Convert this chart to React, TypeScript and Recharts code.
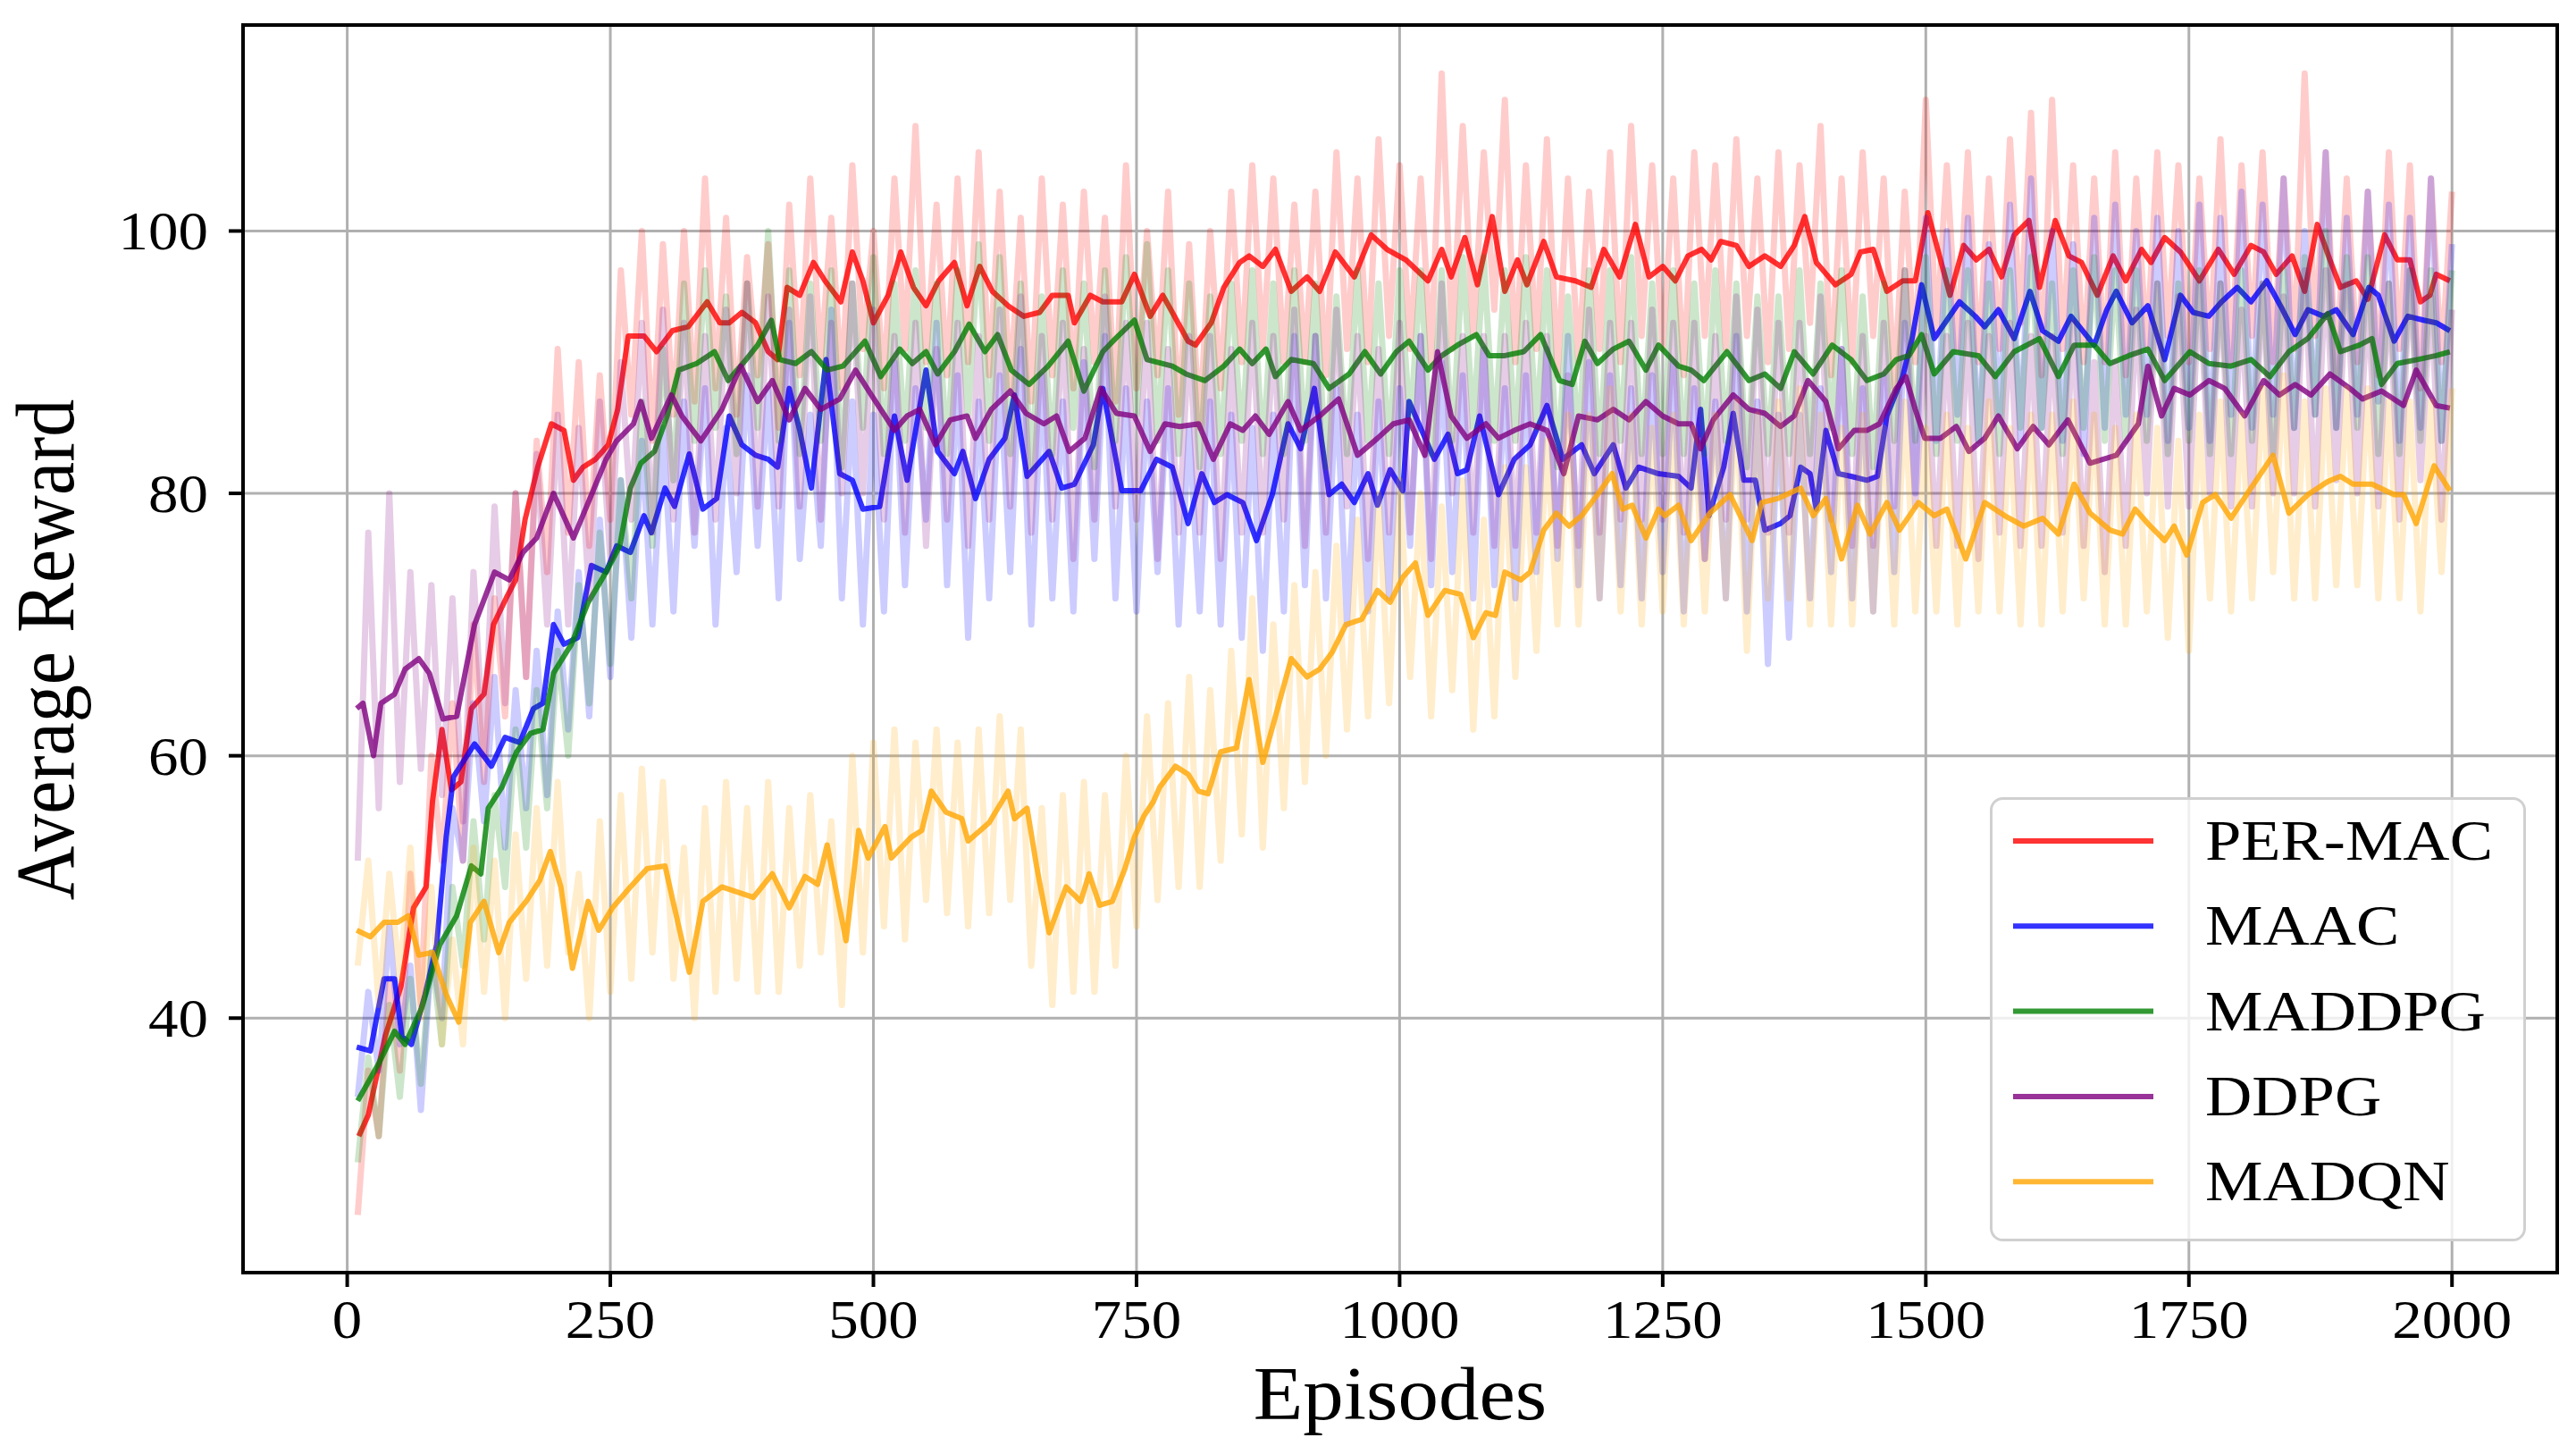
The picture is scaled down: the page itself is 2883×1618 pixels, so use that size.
import React from "react";
import {
  LineChart,
  Line,
  XAxis,
  YAxis,
  CartesianGrid,
  ReferenceArea,
  Legend,
  Label,
} from "recharts";

const FONT = "'Liberation Serif', 'Times New Roman', serif";

const xTicks = [0, 250, 500, 750, 1000, 1250, 1500, 1750, 2000];
const yTicks = [40, 60, 80, 100];

// smoothed curves, [episode, average reward]
const perMacSmooth = [
  [11, 31], [20, 32.6], [36, 38.6], [51, 42.4], [63, 48.4], [75, 50], [81, 56.5], [90, 62], [99, 57.4], [108, 58],
  [118, 63.6], [130, 64.7], [139, 70], [151, 72], [160, 73.4], [169, 78], [181, 82], [194, 85.3], [206, 84.8], [215, 81],
  [224, 82], [236, 82.6], [248, 83.7], [257, 86.4], [267, 92], [282, 92], [294, 90.8], [309, 92.4], [324, 92.7], [342, 94.6],
  [354, 93], [363, 93], [375, 93.8], [388, 93], [400, 90.8], [409, 90.2], [418, 95.7], [430, 95.1], [443, 97.6], [454, 96.2],
  [469, 94.6], [480, 98.4], [490, 96.2], [500, 93], [514, 95.1], [526, 98.4], [538, 95.7], [550, 94.3], [562, 96.2], [577, 97.6],
  [589, 94.3], [601, 97.3], [613, 95.4], [628, 94.3], [643, 93.5], [658, 93.8], [670, 95.1], [685, 95.1], [691, 93], [706, 95.1],
  [718, 94.6], [736, 94.6], [748, 96.7], [763, 93.5], [775, 95.1], [784, 93.8], [799, 91.6], [806, 91.3], [821, 93], [833, 95.7],
  [848, 97.6], [857, 98.1], [870, 97.3], [882, 98.6], [897, 95.4], [912, 96.5], [924, 95.4], [939, 98.4], [957, 96.5], [973, 99.7],
  [988, 98.6], [1006, 97.8], [1027, 96.2], [1040, 98.6], [1049, 96.5], [1062, 99.5], [1074, 95.9], [1088, 101.1], [1100, 95.4], [1112, 97.8],
  [1121, 95.9], [1137, 99.2], [1149, 96.5], [1167, 96.2], [1182, 95.7], [1194, 98.6], [1209, 96.5], [1224, 100.5], [1237, 96.5], [1250, 97.3],
  [1262, 96.2], [1274, 98.1], [1287, 98.6], [1296, 97.8], [1305, 99.2], [1320, 98.9], [1332, 97.3], [1347, 98.1], [1362, 97.3], [1375, 98.9],
  [1385, 101.1], [1396, 97.6], [1414, 95.9], [1429, 96.7], [1438, 98.4], [1450, 98.6], [1463, 95.4], [1478, 96.2], [1490, 96.2], [1502, 101.4],
  [1514, 97.8], [1523, 95.1], [1536, 98.9], [1548, 97.8], [1560, 98.6], [1572, 96.5], [1584, 99.7], [1598, 100.8], [1608, 95.7], [1623, 100.8],
  [1636, 98.1], [1648, 97.6], [1663, 95.1], [1678, 98.1], [1690, 96.2], [1705, 98.6], [1714, 97.6], [1727, 99.5], [1742, 98.4], [1760, 96.2],
  [1778, 98.6], [1793, 96.7], [1809, 98.9], [1821, 98.4], [1833, 96.7], [1848, 98.1], [1860, 95.4], [1872, 100.5], [1884, 97.8], [1894, 95.7],
  [1909, 96.2], [1920, 94.8], [1936, 99.7], [1948, 97.8], [1960, 97.8], [1970, 94.6], [1979, 95.1], [1985, 96.7], [1998, 96.2],
];

const maacSmooth = [
  [9, 37.8], [22, 37.5], [35, 43], [45, 43], [52, 38.6], [61, 38], [74, 41.8], [85, 45.6], [94, 53.8], [101, 58.4],
  [121, 60.9], [137, 59.2], [150, 61.4], [164, 61], [177, 63.6], [186, 64], [196, 70], [206, 68.5], [219, 69], [232, 74.5],
  [246, 74], [256, 76], [269, 75.5], [282, 78.3], [289, 77], [302, 80.4], [311, 79], [325, 83], [338, 78.8], [351, 79.6],
  [363, 85.9], [375, 83.7], [388, 82.9], [400, 82.6], [409, 82], [420, 88], [430, 84.8], [441, 80.4], [455, 90.2], [468, 81.5],
  [480, 81], [490, 78.8], [506, 79], [520, 85.9], [532, 81], [550, 89.4], [561, 83.2], [577, 81.5], [585, 83.2], [597, 79.6],
  [610, 82.6], [625, 84.2], [634, 87.5], [646, 81.3], [667, 83.2], [679, 80.4], [691, 80.7], [709, 83.7], [718, 88], [736, 80.2],
  [754, 80.2], [769, 82.6], [784, 82], [799, 77.7], [812, 81.5], [824, 79.3], [836, 79.9], [851, 79.3], [864, 76.4], [879, 79.9],
  [894, 85.3], [906, 83.4], [919, 88], [933, 79.9], [945, 80.7], [957, 79.3], [970, 81.5], [979, 79.1], [991, 81.8], [1003, 80.2],
  [1009, 87], [1021, 84.8], [1033, 82.6], [1046, 84.5], [1055, 81.5], [1064, 81.8], [1076, 85.9], [1094, 79.9], [1109, 82.6], [1124, 83.7],
  [1140, 86.7], [1155, 82.6], [1173, 83.7], [1185, 81.5], [1203, 83.7], [1215, 80.4], [1227, 82], [1246, 81.5], [1265, 81.3], [1277, 80.4],
  [1286, 86.4], [1294, 78.3], [1308, 82], [1317, 86.1], [1327, 81], [1338, 81], [1347, 77.2], [1362, 77.7], [1371, 78.3], [1381, 82],
  [1390, 81.5], [1396, 78.8], [1405, 84.8], [1417, 81.5], [1429, 81.3], [1444, 81], [1454, 81.3], [1463, 85.9], [1478, 88.9], [1487, 91.8],
  [1496, 95.9], [1508, 91.8], [1520, 93.2], [1532, 94.6], [1547, 93.5], [1556, 92.7], [1569, 94], [1584, 91.8], [1599, 95.4], [1611, 92.4],
  [1626, 91.6], [1638, 93.5], [1660, 91.3], [1672, 94], [1681, 95.4], [1696, 93], [1711, 94.3], [1727, 90.2], [1742, 95.1], [1754, 93.8],
  [1769, 93.5], [1781, 94.6], [1796, 95.7], [1809, 94.6], [1824, 96.2], [1839, 94], [1851, 92.1], [1863, 94], [1878, 93.5], [1890, 94],
  [1906, 92.1], [1921, 95.7], [1930, 95.1], [1945, 91.6], [1958, 93.5], [1973, 93.2], [1985, 93], [1998, 92.4],
];

const maddpgSmooth = [
  [10, 33.7], [29, 36.4], [45, 39], [55, 38], [71, 40.8], [88, 45.6], [104, 47.8], [118, 51.6], [127, 51], [134, 56],
  [147, 57.6], [161, 60.3], [174, 61.7], [186, 62], [196, 66.3], [213, 68.5], [229, 71.7], [246, 74], [259, 76], [269, 80.4],
  [279, 82.3], [292, 83.2], [304, 85.9], [315, 89.4], [332, 89.9], [349, 90.8], [362, 88.6], [379, 90.2], [390, 91.3], [403, 93.2],
  [411, 90.2], [426, 89.9], [441, 90.8], [456, 89.4], [471, 89.7], [492, 91.6], [507, 88.9], [525, 91], [537, 89.9], [550, 90.8],
  [561, 89.1], [577, 90.8], [591, 92.9], [606, 90.8], [618, 92.1], [631, 89.4], [648, 88.3], [666, 89.7], [685, 91.6], [700, 87.8],
  [718, 90.8], [730, 91.8], [748, 93.2], [760, 90.2], [784, 89.7], [797, 89.1], [815, 88.6], [833, 89.7], [848, 91], [860, 89.9],
  [873, 91], [882, 88.9], [897, 90.2], [918, 89.9], [933, 88], [952, 89.1], [967, 90.8], [982, 89.1], [997, 90.8], [1009, 91.6],
  [1027, 89.4], [1040, 90.5], [1055, 91.3], [1073, 92.1], [1085, 90.5], [1100, 90.5], [1118, 90.8], [1134, 92.1], [1152, 88.6], [1164, 88.3],
  [1176, 91.6], [1188, 89.9], [1203, 91], [1218, 91.6], [1234, 89.4], [1246, 91.3], [1265, 89.7], [1277, 89.4], [1289, 88.6], [1311, 90.8],
  [1332, 88.6], [1347, 89.1], [1362, 88], [1375, 90.8], [1393, 89.1], [1411, 91.3], [1429, 90.2], [1444, 88.6], [1460, 89.1], [1472, 90.2],
  [1484, 90.5], [1496, 92.1], [1508, 89.1], [1526, 90.8], [1550, 90.5], [1566, 88.9], [1584, 90.8], [1608, 91.8], [1626, 88.9], [1641, 91.3],
  [1660, 91.3], [1675, 89.9], [1693, 90.5], [1711, 91], [1727, 88.6], [1751, 90.8], [1769, 89.9], [1790, 89.7], [1809, 90.2], [1827, 88.9],
  [1845, 90.8], [1863, 91.8], [1882, 93.7], [1894, 90.8], [1912, 91.3], [1924, 91.8], [1933, 88.3], [1948, 89.9], [1967, 90.2], [1985, 90.5],
  [1998, 90.8],
];

const ddpgSmooth = [
  [9, 63.6], [15, 64], [25, 60], [32, 64], [45, 64.7], [55, 66.6], [68, 67.4], [78, 66.3], [91, 62.8], [104, 63],
  [121, 70], [140, 74], [154, 73.4], [167, 75.5], [180, 76.6], [196, 80], [215, 76.6], [229, 79.3], [246, 82.6], [256, 84],
  [272, 85.3], [279, 87], [289, 84.2], [308, 87.5], [318, 85.9], [336, 84], [356, 86.4], [374, 89.7], [390, 87], [404, 88.6],
  [420, 85.6], [435, 88], [450, 86.4], [468, 87.2], [483, 89.4], [498, 87.5], [520, 84.8], [532, 85.9], [544, 86.4], [559, 83.7],
  [573, 85.6], [589, 85.9], [597, 84.2], [612, 86.4], [630, 87.8], [645, 86.1], [662, 85.3], [674, 85.9], [686, 83.2], [701, 84.2],
  [716, 88], [731, 86.1], [748, 85.9], [763, 83.2], [777, 85.3], [791, 85.1], [809, 85.3], [823, 82.6], [839, 85.3], [851, 84.8],
  [863, 85.9], [876, 84.5], [894, 87], [906, 84.8], [924, 85.9], [942, 87.2], [960, 82.9], [979, 84.2], [994, 85.3], [1009, 85.6],
  [1024, 82.9], [1036, 90.8], [1049, 85.9], [1064, 84.2], [1082, 85.3], [1094, 84.2], [1109, 84.8], [1124, 85.3], [1140, 84.8], [1156, 81.5],
  [1170, 85.9], [1188, 85.6], [1203, 86.4], [1218, 85.6], [1234, 87], [1250, 85.9], [1265, 85.3], [1277, 85.3], [1286, 83.4], [1298, 85.6],
  [1317, 87.5], [1332, 86.4], [1347, 86.1], [1362, 85.1], [1375, 85.9], [1388, 88.6], [1405, 87], [1417, 83.4], [1432, 84.8], [1444, 84.8],
  [1456, 85.3], [1472, 88], [1481, 88.9], [1490, 86.4], [1499, 84.2], [1514, 84.2], [1529, 85.1], [1541, 83.2], [1556, 84.2], [1569, 85.9],
  [1587, 83.4], [1602, 85.1], [1617, 83.7], [1635, 85.6], [1656, 82.3], [1681, 82.9], [1702, 85.3], [1711, 89.7], [1724, 85.9], [1736, 88],
  [1751, 87.5], [1769, 88.6], [1784, 88], [1803, 85.9], [1821, 88.6], [1836, 87.5], [1851, 88.3], [1866, 87.5], [1884, 89.1], [1903, 88],
  [1915, 87.2], [1933, 87.8], [1954, 86.7], [1966, 89.4], [1985, 86.7], [1998, 86.5],
];

const madqnSmooth = [
  [9, 46.7], [22, 46.2], [35, 47.3], [48, 47.3], [58, 47.8], [68, 44.8], [81, 45], [94, 41.8], [106, 39.7], [117, 47.3],
  [130, 48.9], [144, 45], [154, 47.3], [170, 48.9], [183, 50.5], [193, 52.7], [203, 50], [214, 43.8], [229, 48.9], [239, 46.7],
  [252, 48.4], [269, 50], [285, 51.4], [302, 51.6], [311, 48.4], [325, 43.5], [338, 48.9], [356, 50], [386, 49.2], [404, 51],
  [420, 48.4], [435, 50.8], [447, 50.2], [456, 53.2], [474, 45.9], [486, 54.3], [495, 52.2], [511, 54.6], [517, 52.2], [536, 53.8],
  [546, 54.3], [555, 57.3], [569, 55.7], [584, 55.2], [590, 53.5], [610, 54.9], [628, 57.3], [634, 55.2], [646, 56], [655, 51.6],
  [667, 46.5], [683, 50], [697, 48.9], [705, 51], [715, 48.6], [727, 48.9], [739, 51.4], [748, 53.8], [757, 55.4], [766, 56.5],
  [772, 57.6], [787, 59.2], [799, 58.6], [809, 57.3], [818, 57.1], [830, 60.3], [845, 60.6], [857, 65.8], [870, 59.5], [882, 63],
  [897, 67.4], [912, 66], [924, 66.6], [936, 67.9], [949, 70], [964, 70.4], [979, 72.6], [991, 71.7], [1003, 73.6], [1015, 74.7],
  [1027, 70.7], [1043, 72.6], [1058, 72.3], [1070, 69], [1082, 70.9], [1091, 70.7], [1100, 74], [1115, 73.4], [1124, 74], [1137, 77.2],
  [1149, 78.5], [1161, 77.5], [1173, 78.3], [1188, 79.9], [1202, 81.5], [1212, 78.8], [1221, 79.1], [1234, 76.6], [1246, 78.8], [1252, 78.3],
  [1265, 79.1], [1277, 76.4], [1295, 78.5], [1314, 79.9], [1335, 76.4], [1344, 79.3], [1359, 79.6], [1381, 80.4], [1393, 78.3], [1405, 79.6],
  [1420, 75], [1435, 79.1], [1447, 76.9], [1463, 79.3], [1475, 77.2], [1493, 79.3], [1508, 78.3], [1520, 78.8], [1538, 75], [1556, 79.3],
  [1575, 78.3], [1593, 77.5], [1611, 78.1], [1626, 76.9], [1641, 80.7], [1656, 78.5], [1675, 77.2], [1687, 76.9], [1699, 78.8], [1711, 77.7],
  [1727, 76.4], [1736, 77.5], [1748, 75.3], [1763, 79.3], [1775, 79.9], [1790, 78.1], [1809, 80.4], [1830, 82.9], [1845, 78.5], [1863, 79.9],
  [1882, 80.9], [1894, 81.3], [1906, 80.7], [1924, 80.7], [1945, 79.9], [1954, 79.9], [1966, 77.7], [1983, 82.1], [1998, 80.2],
];

// raw (unsmoothed) rewards, one value every 10 episodes from 10 to 2000
const perMacRaw = [
  25, 36, 31, 43, 36, 51, 41, 60, 52, 64,
  52, 70, 58, 72, 63, 80, 66, 84, 74, 91,
  77, 90, 76, 89, 78, 97, 86, 100, 84, 99,
  86, 100, 87, 104, 88, 101, 86, 98, 89, 99,
  85, 102, 89, 104, 90, 101, 88, 105, 91, 100,
  88, 104, 91, 108, 90, 102, 89, 104, 90, 106,
  89, 103, 88, 101, 87, 104, 89, 102, 88, 103,
  90, 101, 87, 105, 88, 100, 89, 103, 86, 99,
  85, 100, 88, 103, 90, 105, 91, 104, 90, 102,
  90, 103, 89, 106, 91, 104, 90, 107, 92, 105,
  91, 104, 90, 112, 91, 108, 92, 106, 94, 110,
  90, 105, 91, 107, 89, 104, 90, 103, 91, 106,
  90, 108, 92, 105, 91, 104, 89, 106, 92, 105,
  91, 107, 92, 104, 90, 106, 91, 105, 93, 108,
  89, 104, 90, 106, 92, 104, 88, 103, 90, 110,
  92, 105, 91, 106, 90, 104, 91, 107, 93, 109,
  89, 110, 91, 105, 90, 104, 90, 106, 89, 104,
  91, 106, 92, 105, 90, 104, 91, 107, 90, 105,
  92, 106, 90, 104, 91, 112, 92, 106, 89, 104,
  90, 103, 89, 106, 91, 105, 88, 104, 90, 103,
];

const maacRaw = [
  34, 42, 36, 47, 38, 44, 33, 45, 40, 56,
  52, 64, 55, 66, 53, 65, 56, 68, 57, 71,
  62, 74, 63, 78, 66, 81, 69, 84, 70, 85,
  71, 87, 76, 88, 70, 85, 74, 89, 76, 88,
  72, 93, 75, 86, 76, 94, 72, 87, 70, 86,
  71, 90, 73, 88, 78, 93, 73, 89, 69, 87,
  72, 89, 74, 91, 70, 89, 72, 87, 71, 90,
  75, 92, 72, 88, 71, 87, 74, 88, 70, 85,
  71, 87, 70, 86, 69, 85, 68, 86, 71, 92,
  73, 92, 72, 88, 70, 86, 71, 87, 72, 88,
  76, 92, 73, 90, 74, 89, 72, 91, 73, 88,
  72, 89, 74, 91, 75, 92, 73, 90, 72, 89,
  73, 88, 72, 89, 74, 90, 71, 88, 75, 87,
  72, 92, 71, 87, 67, 86, 69, 86, 72, 88,
  74, 91, 72, 88, 71, 89, 74, 93, 80, 101,
  84, 100, 86, 101, 84, 99, 86, 102, 84, 104,
  85, 100, 84, 99, 83, 101, 85, 102, 86, 100,
  86, 101, 84, 100, 85, 102, 84, 101, 86, 103,
  85, 102, 86, 104, 85, 100, 86, 106, 85, 101,
  86, 103, 87, 102, 84, 101, 85, 104, 84, 99,
];

const maddpgRaw = [
  29, 37, 31, 41, 34, 43, 35, 45, 38, 50,
  44, 55, 46, 57, 50, 62, 53, 65, 56, 68,
  60, 73, 64, 77, 67, 81, 72, 87, 76, 91,
  81, 96, 84, 97, 85, 95, 83, 96, 85, 100,
  84, 97, 83, 96, 84, 97, 82, 96, 85, 98,
  83, 96, 84, 97, 85, 96, 83, 97, 86, 99,
  84, 98, 83, 96, 82, 95, 83, 97, 85, 96,
  82, 97, 84, 98, 86, 99, 84, 97, 83, 96,
  82, 95, 83, 96, 84, 97, 83, 96, 83, 97,
  84, 96, 82, 95, 83, 97, 84, 96, 83, 97,
  85, 97, 83, 97, 84, 98, 85, 98, 84, 97,
  84, 98, 85, 97, 82, 95, 84, 97, 83, 97,
  84, 98, 83, 96, 83, 97, 83, 96, 83, 97,
  84, 96, 82, 95, 83, 95, 83, 97, 83, 96,
  85, 97, 83, 95, 82, 96, 84, 97, 84, 98,
  83, 97, 84, 97, 84, 96, 83, 97, 85, 98,
  85, 96, 83, 97, 85, 98, 84, 97, 84, 97,
  84, 96, 83, 96, 84, 97, 83, 96, 83, 97,
  84, 96, 83, 97, 85, 98, 86, 100, 85, 98,
  85, 98, 83, 96, 83, 97, 84, 97, 84, 97,
];

const ddpgRaw = [
  52, 77, 56, 80, 58, 74, 59, 73, 57, 72,
  55, 74, 60, 79, 64, 80, 66, 83, 70, 86,
  70, 85, 72, 87, 75, 90, 78, 93, 77, 94,
  78, 93, 77, 92, 78, 94, 80, 96, 79, 95,
  79, 94, 79, 95, 78, 93, 80, 96, 80, 94,
  78, 92, 77, 93, 76, 91, 78, 93, 76, 92,
  78, 94, 79, 95, 77, 92, 78, 93, 75, 91,
  78, 95, 79, 93, 78, 93, 75, 91, 77, 92,
  77, 92, 75, 91, 77, 93, 77, 92, 78, 94,
  76, 92, 77, 94, 79, 92, 75, 91, 77, 93,
  77, 92, 75, 96, 80, 92, 77, 92, 76, 92,
  76, 93, 77, 92, 76, 89, 76, 94, 77, 93,
  78, 93, 78, 94, 78, 93, 77, 93, 75, 92,
  78, 95, 78, 94, 77, 93, 77, 93, 80, 95,
  78, 91, 76, 92, 76, 93, 79, 97, 79, 92,
  76, 92, 76, 93, 75, 92, 77, 93, 76, 92,
  76, 92, 77, 93, 76, 90, 74, 90, 76, 94,
  80, 96, 79, 95, 79, 96, 80, 96, 79, 94,
  79, 96, 80, 95, 80, 97, 79, 97, 81, 96,
  80, 95, 79, 96, 78, 97, 81, 95, 78, 94,
];

const madqnRaw = [
  44, 52, 41, 51, 43, 53, 40, 50, 38, 46,
  38, 53, 42, 52, 40, 54, 43, 56, 44, 58,
  45, 51, 40, 55, 42, 57, 43, 59, 45, 58,
  43, 53, 40, 56, 42, 58, 43, 56, 42, 58,
  42, 56, 44, 57, 45, 55, 41, 60, 45, 61,
  47, 62, 46, 61, 49, 62, 48, 61, 47, 62,
  48, 63, 49, 62, 44, 56, 41, 57, 42, 58,
  42, 57, 44, 60, 47, 63, 49, 64, 50, 66,
  50, 65, 52, 68, 54, 72, 53, 70, 56, 73,
  58, 74, 60, 76, 62, 78, 63, 80, 64, 81,
  66, 80, 63, 79, 65, 81, 62, 78, 63, 82,
  66, 82, 68, 84, 70, 86, 70, 86, 72, 88,
  71, 86, 70, 85, 71, 86, 70, 85, 71, 86,
  72, 87, 68, 86, 72, 87, 72, 88, 70, 86,
  70, 85, 70, 86, 71, 85, 70, 87, 71, 85,
  71, 86, 70, 85, 71, 87, 71, 85, 70, 86,
  70, 86, 71, 87, 72, 86, 70, 85, 70, 86,
  71, 85, 69, 84, 68, 86, 72, 87, 71, 86,
  72, 88, 74, 89, 72, 87, 72, 88, 73, 88,
  73, 88, 72, 87, 72, 87, 71, 87, 74, 88,
];

const rawEpisodes = perMacRaw.map((_, i) => (i + 1) * 10);

const series = [
  { name: "PER-MAC", color: "#ff0000", smooth: perMacSmooth, raw: perMacRaw },
  { name: "MAAC", color: "#0000ff", smooth: maacSmooth, raw: maacRaw },
  { name: "MADDPG", color: "#008000", smooth: maddpgSmooth, raw: maddpgRaw },
  { name: "DDPG", color: "#800080", smooth: ddpgSmooth, raw: ddpgRaw },
  { name: "MADQN", color: "#ffa500", smooth: madqnSmooth, raw: madqnRaw },
];

const X_DOMAIN: [number, number] = [-99, 2100];
const Y_DOMAIN: [number, number] = [20.6, 115.7];

const toPoints = (pairs: number[][]) => pairs.map(([ep, v]) => ({ ep, v }));
const rawPoints = (vals: number[]) => vals.map((v, i) => ({ ep: rawEpisodes[i], v }));

const XTick = (props: any) => {
  const { x, y, payload } = props;
  return (
    <text
      transform={`translate(${x},${y + 57}) scale(1.08,1)`}
      textAnchor="middle"
      fontFamily={FONT}
      fontSize={62}
      fill="#000"
    >
      {payload.value}
    </text>
  );
};

const YTick = (props: any) => {
  const { x, y, payload } = props;
  return (
    <text
      transform={`translate(${x - 23},${y + 21}) scale(1.08,1)`}
      textAnchor="end"
      fontFamily={FONT}
      fontSize={62}
      fill="#000"
    >
      {payload.value}
    </text>
  );
};

const EpisodesLabel = () => (
  <text
    transform="translate(1567,1588) scale(1.07,1)"
    textAnchor="middle"
    fontFamily={FONT}
    fontSize={85}
    fill="#000"
  >
    Episodes
  </text>
);

const RewardLabel = () => (
  <text
    transform="translate(82,727) rotate(-90) scale(1,1.12)"
    textAnchor="middle"
    fontFamily={FONT}
    fontSize={84}
    fill="#000"
  >
    Average Reward
  </text>
);

const LegendBox = () => (
  <svg width={600} height={497} style={{ display: "block" }}>
    <rect
      x={1.5}
      y={1.5}
      width={597}
      height={494}
      rx={13}
      fill="#ffffff"
      fillOpacity={0.8}
      stroke="#d0d0d0"
      strokeWidth={3}
    />
    {series.map((s, i) => {
      const cy = 49 + i * 95.3;
      return (
        <g key={s.name}>
          <line x1={26} x2={183} y1={cy} y2={cy} stroke={s.color} strokeOpacity={0.8} strokeWidth={6} />
          <text
            transform={`translate(241,${cy + 21}) scale(1.15,1)`}
            fontFamily={FONT}
            fontSize={63}
            fill="#000"
          >
            {s.name}
          </text>
        </g>
      );
    })}
  </svg>
);

export default function App() {
  return (
    <div style={{ width: 2883, height: 1618, background: "#fff" }}>
      <style>{"body{margin:0;background:#fff}"}</style>
      <LineChart width={2883} height={1618} margin={{ top: 28, right: 21, bottom: 0, left: 0 }}>
        <CartesianGrid stroke="#b0b0b0" strokeWidth={3} />
        <XAxis
          type="number"
          dataKey="ep"
          domain={X_DOMAIN}
          ticks={xTicks}
          interval={0}
          allowDataOverflow
          height={194}
          tickSize={16}
          tickMargin={0}
          axisLine={false}
          tickLine={{ stroke: "#000", strokeWidth: 4 }}
          tick={<XTick />}
        >
          <Label content={EpisodesLabel} />
        </XAxis>
        <YAxis
          type="number"
          domain={Y_DOMAIN}
          ticks={yTicks}
          interval={0}
          allowDataOverflow
          width={272}
          tickSize={16}
          tickMargin={0}
          axisLine={false}
          tickLine={{ stroke: "#000", strokeWidth: 4 }}
          tick={<YTick />}
        >
          <Label content={RewardLabel} />
        </YAxis>
        {series.flatMap((s) => [
          <Line
            key={s.name + "-raw"}
            data={rawPoints(s.raw)}
            dataKey="v"
            type="linear"
            stroke={s.color}
            strokeOpacity={0.2}
            strokeWidth={7}
            strokeLinejoin="round"
            dot={false}
            activeDot={false}
            legendType="none"
            isAnimationActive={false}
          />,
          <Line
            key={s.name}
            name={s.name}
            data={toPoints(s.smooth)}
            dataKey="v"
            type="linear"
            stroke={s.color}
            strokeOpacity={0.8}
            strokeWidth={6}
            strokeLinejoin="round"
            dot={false}
            activeDot={false}
            isAnimationActive={false}
          />,
        ])}
        <ReferenceArea
          x1={X_DOMAIN[0]}
          x2={X_DOMAIN[1]}
          y1={Y_DOMAIN[0]}
          y2={Y_DOMAIN[1]}
          fill="none"
          stroke="#000"
          strokeWidth={4}
          ifOverflow="visible"
        />
        <Legend
          layout="horizontal"
          verticalAlign="middle"
          align="center"
          content={LegendBox}
          wrapperStyle={{ position: "absolute", left: 2227, top: 892, width: 600, height: 497 }}
        />
      </LineChart>
    </div>
  );
}
